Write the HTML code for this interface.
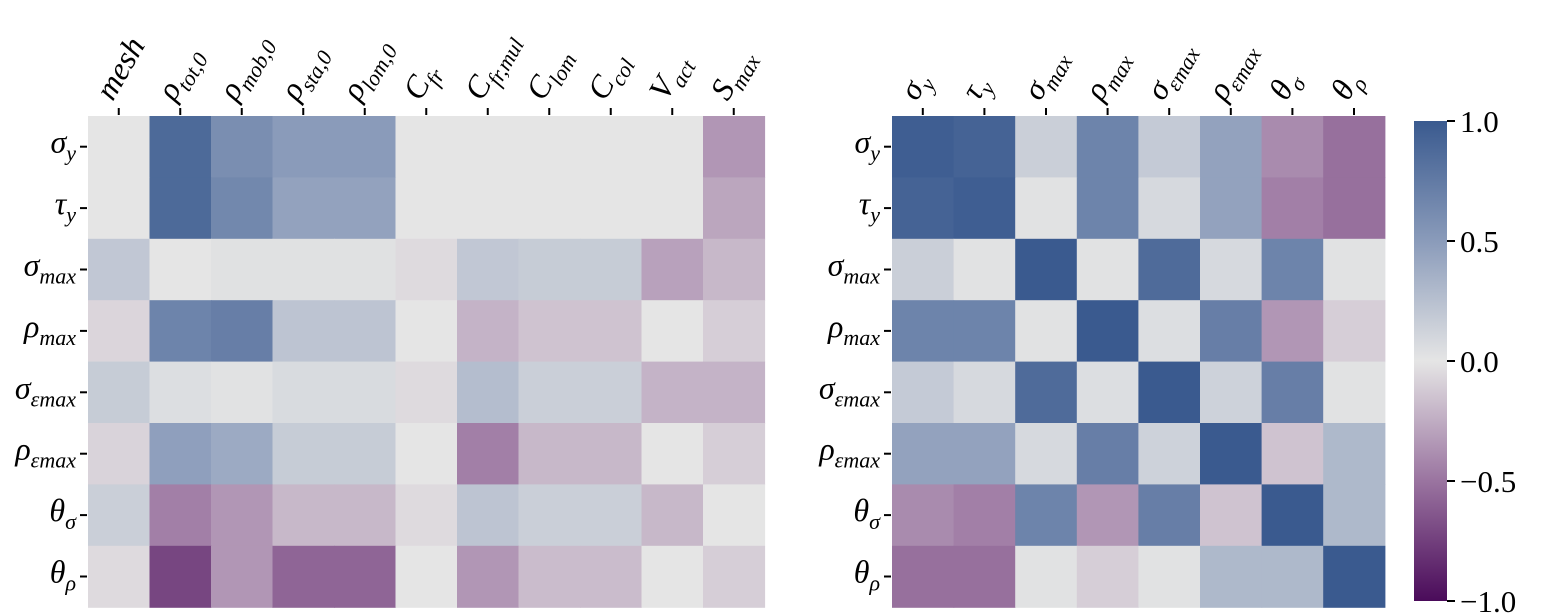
<!DOCTYPE html>
<html><head><meta charset="utf-8"><style>
html,body{margin:0;padding:0;background:#fff;width:1550px;height:614px;overflow:hidden}
svg text{font-family:"Liberation Serif","DejaVu Serif",serif}
</style></head><body>
<svg id="s" width="1550" height="614" xmlns="http://www.w3.org/2000/svg">
<defs><linearGradient id="cb" x1="0" y1="1" x2="0" y2="0">
<stop offset="0" stop-color="#4a0b5a"/><stop offset="0.25" stop-color="#9a74a0"/>
<stop offset="0.5" stop-color="#e5e5e5"/><stop offset="0.75" stop-color="#8a9bba"/>
<stop offset="1" stop-color="#3a5a8f"/></linearGradient></defs>
</svg>
<script>
const S=document.getElementById('s');let h='';
const stops=[[-1,[74,11,90]],[-0.5,[154,116,160]],[0,[229,229,229]],[0.5,[138,155,186]],[1,[58,90,143]]];
function col(v){for(let i=0;i<4;i++){const a=stops[i],b=stops[i+1];if(v<=b[0]){const t=(v-a[0])/(b[0]-a[0]);return 'rgb('+a[1].map((c,k)=>Math.round(c+(b[1][k]-c)*t)).join(',')+')';}}}
const L=[[0,.88,.6,.5,.5,0,0,0,0,0,-.35],[0,.88,.65,.45,.45,0,0,0,0,0,-.28],[.2,0,.03,.03,.03,-.05,.2,.17,.17,-.3,-.2],[-.07,.68,.72,.22,.22,0,-.22,-.15,-.15,0,-.1],[.17,.05,.02,.07,.07,-.05,.27,.15,.15,-.22,-.22],[-.08,.47,.4,.17,.17,0,-.45,-.2,-.2,0,-.1],[.15,-.45,-.35,-.2,-.2,-.05,.22,.15,.15,-.2,0],[-.05,-.72,-.35,-.57,-.57,0,-.35,-.18,-.18,0,-.1]];
const R=[[.97,.93,.15,.68,.18,.45,-.4,-.52],[.93,.97,.02,.68,.08,.45,-.45,-.52],[.15,.02,1,.02,.87,.08,.68,.02],[.68,.68,.02,1,.05,.72,-.35,-.1],[.18,.08,.87,.05,1,.13,.72,.02],[.45,.45,.08,.72,.13,1,-.15,.3],[-.4,-.45,.68,-.35,.72,-.15,1,.3],[-.52,-.52,.02,-.1,.02,.3,.3,1]];
const rows=[['σ','y'],['τ','y'],['σ','max'],['ρ','max'],['σ','εmax'],['ρ','εmax'],['θ','σ'],['θ','ρ']];
const y0=116,rh=61.4;
function lab(m,s){return '<tspan font-style="italic">'+m+'</tspan>'+(s?'<tspan font-style="italic" font-size="22" dy="8">'+s+'</tspan>':'');}
function map(M,x0,cw,cols){
 M.forEach((r,i)=>r.forEach((v,j)=>{h+=`<rect x="${x0+j*cw}" y="${y0+i*rh}" width="${cw+0.6}" height="${rh+0.6}" fill="${col(v)}"/>`;}));
 rows.forEach((r,i)=>{const y=y0+(i+.5)*rh;h+=`<line x1="${x0-8}" x2="${x0-1}" y1="${y}" y2="${y}" stroke="#000" stroke-width="2"/>`;
  h+=`<text x="${x0-12}" y="${y+6}" font-size="32" text-anchor="end">${lab(r[0],r[1])}</text>`;});
 cols.forEach((c,j)=>{const x=x0+(j+.5)*cw;h+=`<line x1="${x}" x2="${x}" y1="${y0-8}" y2="${y0-1}" stroke="#000" stroke-width="2"/>`;
  h+=`<text transform="translate(${x-6},${y0-14}) rotate(-60)" font-size="32">${lab(c[0],c[1])}</text>`;});
}
map(L,88,61.5,[['mesh',''],['ρ','tot,0'],['ρ','mob,0'],['ρ','sta,0'],['ρ','lom,0'],['C','fr'],['C','fr,mul'],['C','lom'],['C','col'],['V','act'],['S','max']]);
map(R,892,61.6,rows);
h+='<rect x="1414" y="121" width="33" height="480" fill="url(#cb)"/>';
['1.0','0.5','0.0','−0.5','−1.0'].forEach((t,i)=>{const y=121+i*120;h+=`<line x1="1447" x2="1455" y1="${y}" y2="${y}" stroke="#000" stroke-width="2"/><text x="1460" y="${y+11}" font-size="31">${t}</text>`;});
S.insertAdjacentHTML('beforeend',h);
</script>
</body></html>
